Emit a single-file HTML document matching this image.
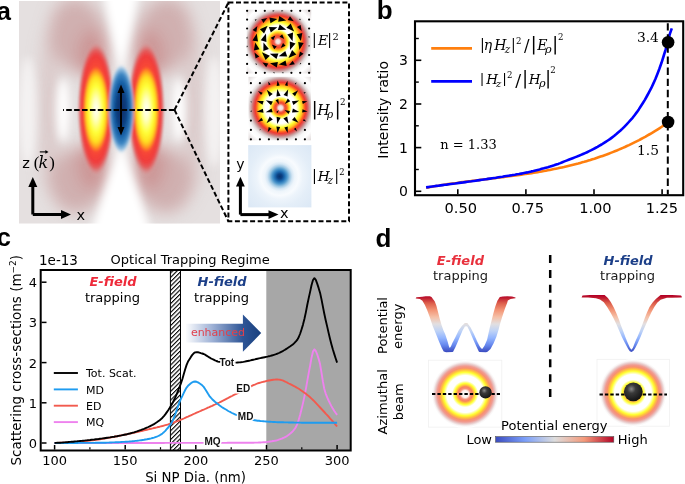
<!DOCTYPE html>
<html><head><meta charset="utf-8"><title>Figure</title>
<style>html,body{margin:0;padding:0;background:#fff;width:685px;height:484px;overflow:hidden}svg{display:block}</style>
</head><body>
<svg width="685" height="484" viewBox="0 0 685 484"><defs><clipPath id="clipC"><rect x="41" y="270" width="309.5" height="180"/></clipPath></defs><rect width="685" height="484" fill="#ffffff"/><defs>
<radialGradient id="lobeR" cx="0.5" cy="0.5" r="0.5">
  <stop offset="0" stop-color="#ff6a30"/>
  <stop offset="0.6" stop-color="#fa4a34"/>
  <stop offset="0.78" stop-color="#f03c3c"/>
  <stop offset="0.86" stop-color="#e45858" stop-opacity="0.95"/>
  <stop offset="0.93" stop-color="#d88a8a" stop-opacity="0.7"/>
  <stop offset="1" stop-color="#d4b0b0" stop-opacity="0"/>
</radialGradient>
<radialGradient id="lobeY" cx="0.5" cy="0.5" r="0.5">
  <stop offset="0" stop-color="#ffffff"/>
  <stop offset="0.25" stop-color="#ffffc0"/>
  <stop offset="0.55" stop-color="#ffff38"/>
  <stop offset="0.75" stop-color="#ffe020"/>
  <stop offset="0.86" stop-color="#ffa820"/>
  <stop offset="0.94" stop-color="#ff7a28" stop-opacity="0.8"/>
  <stop offset="1" stop-color="#ff6030" stop-opacity="0"/>
</radialGradient>
<radialGradient id="bluelobe" cx="0.5" cy="0.5" r="0.5">
  <stop offset="0" stop-color="#08306b"/>
  <stop offset="0.35" stop-color="#0a3b7c"/>
  <stop offset="0.6" stop-color="#1a62a8"/>
  <stop offset="0.78" stop-color="#3f88c4"/>
  <stop offset="0.9" stop-color="#8fbde0" stop-opacity="0.9"/>
  <stop offset="1" stop-color="#dcebf6" stop-opacity="0"/>
</radialGradient>
<filter id="blur1" x="-50%" y="-50%" width="200%" height="200%"><feGaussianBlur stdDeviation="1.2"/></filter>
<radialGradient id="pinkhaze" cx="0.5" cy="0.5" r="0.5">
  <stop offset="0" stop-color="#c89494" stop-opacity="0.85"/>
  <stop offset="0.6" stop-color="#cfa4a4" stop-opacity="0.6"/>
  <stop offset="1" stop-color="#dcc8c8" stop-opacity="0"/>
</radialGradient>
<radialGradient id="whiteblob" cx="0.5" cy="0.5" r="0.5">
  <stop offset="0" stop-color="#ffffff" stop-opacity="1"/>
  <stop offset="0.6" stop-color="#ffffff" stop-opacity="0.8"/>
  <stop offset="1" stop-color="#ffffff" stop-opacity="0"/>
</radialGradient>
<filter id="blur2" x="-50%" y="-50%" width="200%" height="200%"><feGaussianBlur stdDeviation="2"/></filter>
<filter id="blur4" x="-50%" y="-50%" width="200%" height="200%"><feGaussianBlur stdDeviation="4"/></filter>
<filter id="blur6" x="-50%" y="-50%" width="200%" height="200%"><feGaussianBlur stdDeviation="6"/></filter><filter id="blur8" x="-50%" y="-50%" width="200%" height="200%"><feGaussianBlur stdDeviation="8"/></filter>
<clipPath id="clipA"><rect x="19" y="1" width="201" height="222.5"/></clipPath>
<radialGradient id="ringE" gradientUnits="userSpaceOnUse" cx="278.00" cy="41.60" r="46.00"><stop offset="0.0000" stop-color="#f6f2f2" stop-opacity="1.00"/><stop offset="0.0435" stop-color="#f2dcd8" stop-opacity="1.00"/><stop offset="0.0870" stop-color="#f05a48" stop-opacity="1.00"/><stop offset="0.1304" stop-color="#f44a2c" stop-opacity="1.00"/><stop offset="0.1630" stop-color="#ff8420" stop-opacity="1.00"/><stop offset="0.2065" stop-color="#ffe020" stop-opacity="1.00"/><stop offset="0.2391" stop-color="#ffff80" stop-opacity="1.00"/><stop offset="0.2717" stop-color="#ffffff" stop-opacity="1.00"/><stop offset="0.3478" stop-color="#ffffff" stop-opacity="1.00"/><stop offset="0.3804" stop-color="#ffffa8" stop-opacity="1.00"/><stop offset="0.4239" stop-color="#ffff30" stop-opacity="1.00"/><stop offset="0.4783" stop-color="#ffc020" stop-opacity="1.00"/><stop offset="0.5217" stop-color="#ff6a20" stop-opacity="1.00"/><stop offset="0.5609" stop-color="#f03a30" stop-opacity="1.00"/><stop offset="0.5978" stop-color="#d86060" stop-opacity="1.00"/><stop offset="0.6413" stop-color="#c8a0a0" stop-opacity="1.00"/><stop offset="0.6848" stop-color="#e2dada" stop-opacity="1.00"/><stop offset="0.7391" stop-color="#f8f8f8" stop-opacity="1.00"/><stop offset="0.8261" stop-color="#ffffff" stop-opacity="1.00"/><stop offset="1.0000" stop-color="#d8d0d0" stop-opacity="1.00"/></radialGradient><radialGradient id="ringH" gradientUnits="userSpaceOnUse" cx="280.50" cy="107.90" r="46.00"><stop offset="0.0000" stop-color="#f6f2f2" stop-opacity="1.00"/><stop offset="0.0478" stop-color="#f2dcd8" stop-opacity="1.00"/><stop offset="0.0913" stop-color="#f05a48" stop-opacity="1.00"/><stop offset="0.1196" stop-color="#f44a2c" stop-opacity="1.00"/><stop offset="0.1522" stop-color="#ff8420" stop-opacity="1.00"/><stop offset="0.1891" stop-color="#ffe020" stop-opacity="1.00"/><stop offset="0.2217" stop-color="#ffff80" stop-opacity="1.00"/><stop offset="0.2500" stop-color="#ffffff" stop-opacity="1.00"/><stop offset="0.3370" stop-color="#ffffff" stop-opacity="1.00"/><stop offset="0.3804" stop-color="#ffffa8" stop-opacity="1.00"/><stop offset="0.4239" stop-color="#ffff30" stop-opacity="1.00"/><stop offset="0.4783" stop-color="#ffc020" stop-opacity="1.00"/><stop offset="0.5174" stop-color="#ff6a20" stop-opacity="1.00"/><stop offset="0.5543" stop-color="#f03a30" stop-opacity="1.00"/><stop offset="0.5935" stop-color="#d86060" stop-opacity="1.00"/><stop offset="0.6370" stop-color="#c8a0a0" stop-opacity="1.00"/><stop offset="0.6848" stop-color="#e2dada" stop-opacity="1.00"/><stop offset="0.7391" stop-color="#f8f8f8" stop-opacity="1.00"/><stop offset="0.8261" stop-color="#ffffff" stop-opacity="1.00"/><stop offset="1.0000" stop-color="#d8d0d0" stop-opacity="1.00"/></radialGradient><radialGradient id="ringZ" gradientUnits="userSpaceOnUse" cx="279.70" cy="176.40" r="46.00"><stop offset="0.0000" stop-color="#08306b" stop-opacity="1.00"/><stop offset="0.0543" stop-color="#0b4285" stop-opacity="1.00"/><stop offset="0.1087" stop-color="#1f6db2" stop-opacity="1.00"/><stop offset="0.1630" stop-color="#4f98cc" stop-opacity="1.00"/><stop offset="0.2174" stop-color="#9cc6e2" stop-opacity="1.00"/><stop offset="0.2717" stop-color="#d4e6f4" stop-opacity="1.00"/><stop offset="0.3261" stop-color="#eef5fb" stop-opacity="1.00"/><stop offset="0.4130" stop-color="#f8fbfe" stop-opacity="1.00"/><stop offset="0.5000" stop-color="#edf4fb" stop-opacity="1.00"/><stop offset="0.6522" stop-color="#e4eef8" stop-opacity="1.00"/><stop offset="1.0000" stop-color="#dae7f5" stop-opacity="1.00"/></radialGradient><radialGradient id="dringL" gradientUnits="userSpaceOnUse" cx="465.20" cy="394.00" r="34.00"><stop offset="0.0000" stop-color="#ffffff" stop-opacity="1.00"/><stop offset="0.1029" stop-color="#fdf0ec" stop-opacity="1.00"/><stop offset="0.1618" stop-color="#f89078" stop-opacity="1.00"/><stop offset="0.2118" stop-color="#f88060" stop-opacity="1.00"/><stop offset="0.2588" stop-color="#ffc040" stop-opacity="1.00"/><stop offset="0.3088" stop-color="#ffff30" stop-opacity="1.00"/><stop offset="0.3529" stop-color="#ffffa0" stop-opacity="1.00"/><stop offset="0.3882" stop-color="#ffffff" stop-opacity="1.00"/><stop offset="0.5441" stop-color="#ffffff" stop-opacity="1.00"/><stop offset="0.5882" stop-color="#ffffa0" stop-opacity="1.00"/><stop offset="0.6412" stop-color="#ffff30" stop-opacity="1.00"/><stop offset="0.7059" stop-color="#ffc040" stop-opacity="1.00"/><stop offset="0.7647" stop-color="#f89070" stop-opacity="1.00"/><stop offset="0.8235" stop-color="#f09a90" stop-opacity="1.00"/><stop offset="0.8824" stop-color="#e8c8c8" stop-opacity="1.00"/><stop offset="0.9412" stop-color="#f8f4f4" stop-opacity="1.00"/><stop offset="0.9853" stop-color="#ffffff" stop-opacity="1.00"/><stop offset="1.0000" stop-color="#ffffff" stop-opacity="1.00"/></radialGradient><radialGradient id="dringR" gradientUnits="userSpaceOnUse" cx="633.00" cy="392.90" r="34.00"><stop offset="0.0000" stop-color="#ffffff" stop-opacity="1.00"/><stop offset="0.1029" stop-color="#fdf0ec" stop-opacity="1.00"/><stop offset="0.1618" stop-color="#f89078" stop-opacity="1.00"/><stop offset="0.2118" stop-color="#f88060" stop-opacity="1.00"/><stop offset="0.2588" stop-color="#ffc040" stop-opacity="1.00"/><stop offset="0.3088" stop-color="#ffff30" stop-opacity="1.00"/><stop offset="0.3529" stop-color="#ffffa0" stop-opacity="1.00"/><stop offset="0.3882" stop-color="#ffffff" stop-opacity="1.00"/><stop offset="0.5441" stop-color="#ffffff" stop-opacity="1.00"/><stop offset="0.5882" stop-color="#ffffa0" stop-opacity="1.00"/><stop offset="0.6412" stop-color="#ffff30" stop-opacity="1.00"/><stop offset="0.7059" stop-color="#ffc040" stop-opacity="1.00"/><stop offset="0.7647" stop-color="#f89070" stop-opacity="1.00"/><stop offset="0.8235" stop-color="#f09a90" stop-opacity="1.00"/><stop offset="0.8824" stop-color="#e8c8c8" stop-opacity="1.00"/><stop offset="0.9412" stop-color="#f8f4f4" stop-opacity="1.00"/><stop offset="0.9853" stop-color="#ffffff" stop-opacity="1.00"/><stop offset="1.0000" stop-color="#ffffff" stop-opacity="1.00"/></radialGradient>
<radialGradient id="sphere" cx="0.4" cy="0.35" r="0.65">
  <stop offset="0" stop-color="#8a8a8a"/>
  <stop offset="0.35" stop-color="#3a3a3a"/>
  <stop offset="1" stop-color="#141414"/>
</radialGradient>
<linearGradient id="cw" x1="0" y1="0" x2="1" y2="0">
  <stop offset="0" stop-color="#3b4cc0"/>
  <stop offset="0.25" stop-color="#7b9ff9"/>
  <stop offset="0.5" stop-color="#dddddd"/>
  <stop offset="0.75" stop-color="#f49a7b"/>
  <stop offset="1" stop-color="#b40426"/>
</linearGradient>
<linearGradient id="wellg" gradientUnits="userSpaceOnUse" x1="0" y1="296" x2="0" y2="352">
  <stop offset="0" stop-color="#b40426"/>
  <stop offset="0.125" stop-color="#dc5d4a"/>
  <stop offset="0.25" stop-color="#f39475"/>
  <stop offset="0.375" stop-color="#f5c0a7"/>
  <stop offset="0.5" stop-color="#e2dfe0"/>
  <stop offset="0.625" stop-color="#bfd3f6"/>
  <stop offset="0.75" stop-color="#93b5fe"/>
  <stop offset="0.875" stop-color="#6688ee"/>
  <stop offset="1" stop-color="#3b4cc0"/>
</linearGradient>
<filter id="soft" x="-5%" y="-5%" width="110%" height="110%"><feGaussianBlur stdDeviation="0.45"/></filter>
<linearGradient id="arrowg" gradientUnits="userSpaceOnUse" x1="185" y1="0" x2="262" y2="0">
  <stop offset="0" stop-color="#ffffff"/>
  <stop offset="0.35" stop-color="#9fb2d6"/>
  <stop offset="0.75" stop-color="#2e5596"/>
  <stop offset="1" stop-color="#173e7c"/>
</linearGradient>
<pattern id="hatch" patternUnits="userSpaceOnUse" width="3.1" height="3.1" patternTransform="rotate(45)">
  <rect width="3.1" height="3.1" fill="#ffffff"/>
  <rect x="0" y="0" width="1.1" height="3.1" fill="#000000"/>
</pattern>
</defs><g clip-path="url(#clipA)"><rect x="19" y="1" width="201" height="223" fill="#e5e0e0"/><g filter="url(#blur8)"><ellipse cx="49.0" cy="110" rx="9" ry="80" fill="#d0b0b0" opacity="0.5"/><ellipse cx="78.0" cy="36.0" rx="28" ry="38" fill="#c89c9c" opacity="0.72" transform="rotate(-12.0 78.0 36.0)"/><ellipse cx="93.0" cy="54.0" rx="15" ry="24" fill="#cc9090" opacity="0.8"/><ellipse cx="78.0" cy="180.0" rx="28" ry="33" fill="#c89c9c" opacity="0.72" transform="rotate(12.0 78.0 180.0)"/><ellipse cx="93.0" cy="166.0" rx="15" ry="24" fill="#cc9090" opacity="0.8"/><ellipse cx="193.0" cy="110" rx="9" ry="80" fill="#d0b0b0" opacity="0.5"/><ellipse cx="164.0" cy="36.0" rx="28" ry="38" fill="#c89c9c" opacity="0.72" transform="rotate(12.0 164.0 36.0)"/><ellipse cx="149.0" cy="54.0" rx="15" ry="24" fill="#cc9090" opacity="0.8"/><ellipse cx="164.0" cy="180.0" rx="28" ry="33" fill="#c89c9c" opacity="0.72" transform="rotate(-12.0 164.0 180.0)"/><ellipse cx="149.0" cy="166.0" rx="15" ry="24" fill="#cc9090" opacity="0.8"/></g><g filter="url(#blur4)"><ellipse cx="63.0" cy="110" rx="6.5" ry="32" fill="#ffffff"/><ellipse cx="28.0" cy="112" rx="9" ry="55" fill="#ffffff" opacity="0.6"/><ellipse cx="179.0" cy="110" rx="6.5" ry="32" fill="#ffffff"/><ellipse cx="214.0" cy="112" rx="9" ry="55" fill="#ffffff" opacity="0.6"/><path d="M121,80.0 L102.0,-12.0 L140.0,-12.0 Z" fill="#ffffff"/><path d="M121,140.0 L91.0,232.0 L151.0,232.0 Z" fill="#ffffff"/></g><g filter="url(#blur1)"><ellipse cx="96.0" cy="109" rx="18.5" ry="68" fill="url(#lobeR)"/><ellipse cx="96.0" cy="109.5" rx="12.8" ry="43" fill="url(#lobeY)"/><ellipse cx="146.3" cy="109" rx="18.5" ry="68" fill="url(#lobeR)"/><ellipse cx="146.3" cy="109.5" rx="12.8" ry="43" fill="url(#lobeY)"/><ellipse cx="121.3" cy="109" rx="13.2" ry="45" fill="url(#bluelobe)"/></g></g><g stroke="#000" stroke-width="2" fill="none" stroke-dasharray="5,2.6"><path d="M174.5,109.9 L63,109.9" stroke-dasharray="5.6,2.3"/><path d="M174.5,109.9 L228.4,2.6"/><path d="M174.5,109.9 L228.4,221.3"/><rect x="228.4" y="2.6" width="120.6" height="218.7"/></g><line x1="121" y1="92" x2="121" y2="128" stroke="#000" stroke-width="2"/><path d="M121,84.5 L117.5,93 L124.5,93 Z" fill="#000"/><path d="M121,135.5 L117.5,127 L124.5,127 Z" fill="#000"/><path d="M32.8,214.5 L64,214.5" stroke="#000" stroke-width="3" fill="none"/><path d="M32.8,214.5 L32.8,185" stroke="#000" stroke-width="3" fill="none"/><path d="M32.8,177 L28.3,187 L37.3,187 Z" fill="#000"/><path d="M71,214.5 L61,210 L61,219 Z" fill="#000"/><text x="22.2" y="168" font-family="'DejaVu Sans', 'Liberation Sans', sans-serif" font-size="14.5">z</text><text x="33.7" y="167.5" font-family="'Liberation Serif', 'DejaVu Serif', serif" font-size="16.7">(</text><text x="38.55" y="168" font-family="'DejaVu Serif', 'Liberation Serif', serif" font-size="16" font-style="italic">k</text><text x="49.3" y="167.5" font-family="'Liberation Serif', 'DejaVu Serif', serif" font-size="16.7">)</text><path d="M39.8,151.9 L46.2,151.9" stroke="#000" stroke-width="1.1"/><path d="M48.5,151.9 L45.4,150.1 L45.4,153.7 Z" fill="#000"/><text x="76.6" y="219.6" font-family="'DejaVu Sans', 'Liberation Sans', sans-serif" font-size="14.5">x</text><rect x="246.7" y="9.7" width="64.5" height="63.7" fill="url(#ringE)"/><rect x="248.5" y="76.8" width="62.5" height="63.5" fill="url(#ringH)"/><rect x="248.2" y="145.1" width="63.2" height="62.3" fill="url(#ringZ)"/><circle cx="247.1" cy="10.8" r="1.1" fill="#000"/><circle cx="247.1" cy="19.6" r="1.1" fill="#000"/><circle cx="247.1" cy="28.5" r="1.1" fill="#000"/><path d="M247.2,36.4 L247.7,38.4 L246.2,38.2 Z" fill="#000"/><path d="M247.0,45.3 L247.9,47.0 L246.5,47.2 Z" fill="#000"/><circle cx="247.1" cy="55.0" r="1.1" fill="#000"/><circle cx="247.1" cy="63.9" r="1.1" fill="#000"/><circle cx="247.1" cy="72.8" r="1.1" fill="#000"/><circle cx="255.9" cy="10.8" r="1.1" fill="#000"/><path d="M256.6,18.9 L255.8,20.9 L254.7,19.8 Z" fill="#000"/><path d="M257.4,26.0 L256.3,32.1 L252.6,29.9 Z" fill="#000"/><path d="M256.7,33.6 L258.0,41.6 L252.4,40.5 Z" fill="#000"/><path d="M255.2,42.5 L259.5,49.3 L253.9,50.5 Z" fill="#000"/><path d="M254.5,52.6 L259.3,56.4 L255.6,58.6 Z" fill="#000"/><path d="M255.3,63.3 L257.1,64.1 L256.1,65.0 Z" fill="#000"/><circle cx="255.9" cy="72.8" r="1.1" fill="#000"/><circle cx="264.8" cy="10.8" r="1.1" fill="#000"/><path d="M267.3,18.1 L263.4,23.0 L261.2,19.3 Z" fill="#000"/><path d="M267.6,25.7 L264.1,33.5 L259.9,29.2 Z" fill="#000"/><path d="M266.0,33.6 L266.4,42.1 L260.7,40.2 Z" fill="#000"/><path d="M263.5,42.4 L268.9,49.0 L263.3,51.0 Z" fill="#000"/><path d="M261.9,52.2 L269.8,55.7 L265.6,60.0 Z" fill="#000"/><path d="M262.4,62.5 L268.3,63.5 L266.2,67.2 Z" fill="#000"/><circle cx="264.8" cy="72.8" r="1.1" fill="#000"/><path d="M274.6,10.7 L272.8,11.7 L272.6,10.2 Z" fill="#000"/><path d="M277.4,18.9 L270.5,23.2 L269.4,17.6 Z" fill="#000"/><path d="M277.4,27.2 L270.8,32.6 L268.9,26.9 Z" fill="#000"/><path d="M275.3,35.6 L273.3,40.3 L270.7,37.8 Z" fill="#000"/><path d="M271.8,44.5 L276.8,46.6 L274.2,49.3 Z" fill="#000"/><path d="M269.8,53.8 L278.4,53.4 L276.5,59.1 Z" fill="#000"/><path d="M270.0,63.2 L277.9,61.9 L276.8,67.4 Z" fill="#000"/><path d="M272.8,72.6 L274.6,72.2 L274.4,73.5 Z" fill="#000"/><path d="M283.5,10.9 L281.4,11.4 L281.6,9.9 Z" fill="#000"/><path d="M286.2,20.4 L278.2,21.7 L279.3,16.1 Z" fill="#000"/><path d="M286.3,29.8 L277.8,30.0 L279.7,24.4 Z" fill="#000"/><path d="M284.2,39.1 L279.5,36.8 L282.2,34.3 Z" fill="#000"/><path d="M280.7,48.0 L283.0,43.1 L285.6,45.8 Z" fill="#000"/><path d="M278.7,56.3 L285.3,50.9 L287.2,56.6 Z" fill="#000"/><path d="M278.8,64.6 L285.6,60.4 L286.7,65.9 Z" fill="#000"/><path d="M281.6,72.9 L283.3,72.0 L283.5,73.3 Z" fill="#000"/><circle cx="291.4" cy="10.8" r="1.1" fill="#000"/><path d="M293.8,21.2 L287.7,20.0 L290.0,16.3 Z" fill="#000"/><path d="M294.2,31.4 L286.4,27.7 L290.7,23.5 Z" fill="#000"/><path d="M292.6,41.2 L287.3,34.4 L293.0,32.6 Z" fill="#000"/><path d="M290.0,50.0 L289.8,41.4 L295.5,43.4 Z" fill="#000"/><path d="M288.5,57.9 L292.1,50.1 L296.3,54.4 Z" fill="#000"/><path d="M288.9,65.3 L292.7,60.7 L294.8,64.3 Z" fill="#000"/><circle cx="291.4" cy="72.8" r="1.1" fill="#000"/><circle cx="300.2" cy="10.8" r="1.1" fill="#000"/><path d="M300.9,20.3 L299.0,19.5 L300.0,18.5 Z" fill="#000"/><path d="M301.7,31.0 L296.9,27.1 L300.6,24.9 Z" fill="#000"/><path d="M300.9,41.1 L296.7,34.2 L302.3,33.1 Z" fill="#000"/><path d="M299.4,49.9 L298.2,42.0 L303.7,43.1 Z" fill="#000"/><path d="M298.7,57.5 L299.9,51.5 L303.5,53.7 Z" fill="#000"/><path d="M299.6,64.5 L300.4,62.8 L301.3,63.7 Z" fill="#000"/><circle cx="300.2" cy="72.8" r="1.1" fill="#000"/><circle cx="309.1" cy="10.8" r="1.1" fill="#000"/><circle cx="309.1" cy="19.6" r="1.1" fill="#000"/><circle cx="309.1" cy="28.5" r="1.1" fill="#000"/><path d="M309.2,38.3 L308.2,36.5 L309.6,36.3 Z" fill="#000"/><path d="M308.9,47.1 L308.5,45.2 L309.9,45.4 Z" fill="#000"/><circle cx="309.1" cy="55.0" r="1.1" fill="#000"/><circle cx="309.1" cy="63.9" r="1.1" fill="#000"/><circle cx="309.1" cy="72.8" r="1.1" fill="#000"/><circle cx="250.9" cy="83.2" r="1.1" fill="#000"/><circle cx="250.9" cy="92.6" r="1.1" fill="#000"/><path d="M250.2,101.8 L251.7,101.6 L251.5,102.5 Z" fill="#000"/><path d="M250.0,111.3 L251.7,110.6 L251.8,111.7 Z" fill="#000"/><circle cx="250.9" cy="120.6" r="1.1" fill="#000"/><circle cx="250.9" cy="129.9" r="1.1" fill="#000"/><circle cx="250.9" cy="139.3" r="1.1" fill="#000"/><circle cx="259.9" cy="83.2" r="1.1" fill="#000"/><path d="M258.0,91.1 L262.7,92.8 L261.0,95.1 Z" fill="#000"/><path d="M256.8,101.0 L263.6,100.9 L262.5,104.7 Z" fill="#000"/><path d="M256.6,111.8 L262.9,108.8 L263.5,112.7 Z" fill="#000"/><path d="M257.6,122.0 L261.4,117.7 L263.1,120.6 Z" fill="#000"/><path d="M259.4,130.5 L260.1,129.1 L260.7,129.7 Z" fill="#000"/><circle cx="259.9" cy="139.3" r="1.1" fill="#000"/><path d="M268.2,81.6 L270.6,84.3 L268.7,85.2 Z" fill="#000"/><path d="M266.8,89.8 L272.7,94.1 L269.3,96.6 Z" fill="#000"/><path d="M265.9,100.3 L272.9,101.6 L271.0,105.3 Z" fill="#000"/><path d="M265.7,112.2 L271.5,108.4 L272.7,112.2 Z" fill="#000"/><path d="M266.5,123.2 L269.7,116.6 L272.8,119.4 Z" fill="#000"/><path d="M267.7,132.2 L268.7,126.9 L271.5,128.4 Z" fill="#000"/><circle cx="268.9" cy="139.3" r="1.1" fill="#000"/><path d="M277.6,80.6 L279.7,85.6 L276.6,86.0 Z" fill="#000"/><path d="M277.3,89.1 L280.6,95.7 L276.4,96.4 Z" fill="#000"/><path d="M278.9,104.2 L275.5,100.2 L278.3,99.0 Z" fill="#000"/><path d="M278.8,110.0 L277.7,113.0 L276.2,111.9 Z" fill="#000"/><path d="M277.2,123.9 L276.6,116.8 L280.6,117.7 Z" fill="#000"/><path d="M277.5,133.1 L276.4,126.6 L280.2,127.0 Z" fill="#000"/><circle cx="277.9" cy="139.3" r="1.1" fill="#000"/><path d="M287.5,80.8 L287.7,85.9 L284.9,85.2 Z" fill="#000"/><path d="M288.2,89.3 L287.5,96.6 L283.6,95.0 Z" fill="#000"/><path d="M284.8,103.9 L287.8,98.6 L290.2,101.2 Z" fill="#000"/><path d="M284.5,110.0 L290.0,111.1 L288.5,113.9 Z" fill="#000"/><path d="M288.5,123.7 L283.4,118.4 L287.2,116.5 Z" fill="#000"/><path d="M287.7,132.9 L284.3,127.5 L287.8,126.5 Z" fill="#000"/><circle cx="286.9" cy="139.3" r="1.1" fill="#000"/><path d="M296.5,82.3 L295.9,84.4 L294.8,83.8 Z" fill="#000"/><path d="M298.2,90.3 L295.0,96.2 L292.2,93.5 Z" fill="#000"/><path d="M299.2,100.6 L293.4,105.1 L291.9,101.2 Z" fill="#000"/><path d="M299.3,112.0 L292.0,112.6 L292.9,108.5 Z" fill="#000"/><path d="M298.5,122.8 L292.0,120.0 L294.6,116.9 Z" fill="#000"/><path d="M297.0,131.5 L293.9,129.1 L295.7,127.8 Z" fill="#000"/><circle cx="295.9" cy="139.3" r="1.1" fill="#000"/><circle cx="304.9" cy="83.2" r="1.1" fill="#000"/><path d="M305.9,91.9 L304.3,93.7 L303.6,92.6 Z" fill="#000"/><path d="M307.4,101.3 L302.8,104.0 L302.1,101.0 Z" fill="#000"/><path d="M307.5,111.6 L302.1,112.5 L302.5,109.3 Z" fill="#000"/><path d="M306.3,121.4 L303.0,120.7 L303.9,119.0 Z" fill="#000"/><circle cx="304.9" cy="129.9" r="1.1" fill="#000"/><circle cx="304.9" cy="139.3" r="1.1" fill="#000"/><text x="311.93" y="44.40" font-family="'DejaVu Serif', 'Liberation Serif', serif" font-size="13.90">|</text><text x="317.98" y="44.90" font-family="'DejaVu Serif', 'Liberation Serif', serif" font-size="13.80" font-style="italic">E</text><text x="327.33" y="44.40" font-family="'DejaVu Serif', 'Liberation Serif', serif" font-size="13.90">|</text><text x="332.61" y="39.50" font-family="'DejaVu Serif', 'Liberation Serif', serif" font-size="9.86">2</text><text x="311.54" y="115.38" font-family="'DejaVu Serif', 'Liberation Serif', serif" font-size="18.80">|</text><text x="317.29" y="115.00" font-family="'DejaVu Serif', 'Liberation Serif', serif" font-size="14.40" font-style="italic">H</text><text x="327.11" y="117.60" font-family="'DejaVu Serif', 'Liberation Serif', serif" font-size="10.50" font-style="italic">ρ</text><text x="334.44" y="115.38" font-family="'DejaVu Serif', 'Liberation Serif', serif" font-size="18.80">|</text><text x="339.97" y="104.50" font-family="'DejaVu Serif', 'Liberation Serif', serif" font-size="8.78">2</text><text x="312.06" y="180.16" font-family="'DejaVu Serif', 'Liberation Serif', serif" font-size="14.50">|</text><text x="317.68" y="181.00" font-family="'DejaVu Serif', 'Liberation Serif', serif" font-size="13.80" font-style="italic">H</text><text x="327.60" y="183.69" font-family="'DejaVu Serif', 'Liberation Serif', serif" font-size="10.35" font-style="italic">z</text><text x="334.26" y="180.16" font-family="'DejaVu Serif', 'Liberation Serif', serif" font-size="14.50">|</text><text x="339.30" y="174.50" font-family="'DejaVu Serif', 'Liberation Serif', serif" font-size="8.38">2</text><path d="M240.4,214.6 L271,214.6" stroke="#000" stroke-width="3" fill="none"/><path d="M240.4,214.6 L240.4,185" stroke="#000" stroke-width="3" fill="none"/><path d="M240.4,176.8 L236,186.5 L244.8,186.5 Z" fill="#000"/><path d="M278.5,214.6 L268.5,210.2 L268.5,219 Z" fill="#000"/><text x="236.3" y="168.9" font-family="'DejaVu Sans', 'Liberation Sans', sans-serif" font-size="14">y</text><text x="279.9" y="217.6" font-family="'DejaVu Sans', 'Liberation Sans', sans-serif" font-size="14.5">x</text><text x="-3.5" y="19.6" font-family="'Liberation Sans', 'DejaVu Sans', sans-serif" font-size="26" font-weight="bold">a</text><text x="376.8" y="18.8" font-family="'Liberation Sans', 'DejaVu Sans', sans-serif" font-size="26" font-weight="bold">b</text><text x="-3.6" y="246.3" font-family="'Liberation Sans', 'DejaVu Sans', sans-serif" font-size="26" font-weight="bold">c</text><text x="375.5" y="246.5" font-family="'Liberation Sans', 'DejaVu Sans', sans-serif" font-size="26" font-weight="bold">d</text><rect x="415" y="21.3" width="268.2" height="173.9" fill="none" stroke="#000" stroke-width="2.1"/><path d="M426.1,187.8L428.1,187.4L430.2,187.0L432.2,186.7L434.2,186.3L436.2,186.0L438.3,185.7L440.3,185.3L442.3,185.0L444.4,184.7L446.4,184.4L448.4,184.1L450.4,183.8L452.5,183.5L454.5,183.2L456.5,183.0L458.6,182.7L460.6,182.4L462.6,182.1L464.6,181.9L466.7,181.6L468.7,181.3L470.7,181.1L472.8,180.8L474.8,180.6L476.8,180.3L478.8,180.1L480.9,179.8L482.9,179.6L484.9,179.3L487.0,179.1L489.0,178.8L491.0,178.6L493.0,178.3L495.1,178.1L497.1,177.8L499.1,177.6L501.2,177.3L503.2,177.1L505.2,176.8L507.2,176.5L509.3,176.3L511.3,176.0L513.3,175.7L515.4,175.5L517.4,175.2L519.4,174.9L521.4,174.6L523.5,174.3L525.5,174.0L527.5,173.7L529.6,173.4L531.6,173.1L533.6,172.8L535.6,172.4L537.7,172.1L539.7,171.8L541.7,171.4L543.8,171.0L545.8,170.7L547.8,170.3L549.8,169.9L551.9,169.5L553.9,169.1L555.9,168.7L558.0,168.3L560.0,167.8L562.0,167.4L564.0,167.0L566.1,166.5L568.1,166.0L570.1,165.5L572.2,165.0L574.2,164.5L576.2,164.0L578.2,163.5L580.3,162.9L582.3,162.3L584.3,161.8L586.4,161.2L588.4,160.6L590.4,160.0L592.4,159.3L594.5,158.7L596.5,158.0L598.5,157.3L600.6,156.6L602.6,155.9L604.6,155.2L606.6,154.5L608.7,153.7L610.7,152.9L612.7,152.1L614.8,151.3L616.8,150.5L618.8,149.6L620.8,148.8L622.9,147.9L624.9,147.0L626.9,146.0L629.0,145.1L631.0,144.1L633.0,143.1L635.0,142.1L637.1,141.1L639.1,140.1L641.1,139.0L643.2,137.9L645.2,136.8L647.2,135.6L649.2,134.5L651.3,133.3L653.3,132.1L655.3,130.9L657.4,129.6L659.4,128.3L661.4,127.0L663.4,125.7L665.5,124.4L667.5,123.0" stroke="#ff7f0e" stroke-width="2.6" fill="none" stroke-linejoin="round"/><path d="M426.1,187.4L428.2,187.1L430.2,186.8L432.3,186.5L434.4,186.2L436.4,185.9L438.5,185.7L440.6,185.4L442.6,185.1L444.7,184.8L446.7,184.6L448.8,184.3L450.9,184.0L452.9,183.7L455.0,183.5L457.1,183.2L459.1,182.9L461.2,182.6L463.3,182.4L465.3,182.1L467.4,181.8L469.5,181.5L471.5,181.3L473.6,181.0L475.7,180.7L477.7,180.4L479.8,180.1L481.8,179.8L483.9,179.5L486.0,179.2L488.0,178.9L490.1,178.6L492.2,178.3L494.2,178.0L496.3,177.7L498.4,177.3L500.4,177.0L502.5,176.7L504.6,176.3L506.6,176.0L508.7,175.7L510.8,175.4L512.8,175.0L514.9,174.7L516.9,174.3L519.0,174.0L521.1,173.6L523.1,173.2L525.2,172.8L527.3,172.4L529.3,171.9L531.4,171.4L533.5,171.0L535.5,170.4L537.6,169.9L539.7,169.4L541.7,168.8L543.8,168.3L545.9,167.7L547.9,167.2L550.0,166.6L552.0,165.9L554.1,165.3L556.2,164.6L558.2,163.9L560.3,163.1L562.4,162.2L564.4,161.4L566.5,160.6L568.6,159.8L570.6,159.0L572.7,158.2L574.8,157.4L576.8,156.6L578.9,155.8L581.0,154.9L583.0,154.0L585.1,153.1L587.1,152.2L589.2,151.2L591.3,150.2L593.3,149.1L595.4,148.0L597.5,146.9L599.5,145.7L601.6,144.5L603.7,143.2L605.7,141.9L607.8,140.5L609.9,139.1L611.9,137.6L614.0,136.0L616.1,134.3L618.1,132.6L620.2,130.8L622.2,128.9L624.3,126.8L626.4,124.7L628.4,122.5L630.5,120.2L632.6,117.8L634.6,115.2L636.7,112.4L638.8,109.4L640.8,106.3L642.9,103.0L645.0,99.6L647.0,96.0L649.1,92.2L651.2,88.2L653.2,83.9L655.3,79.3L657.3,74.3L659.4,68.8L661.5,62.8L663.5,56.5L665.6,49.6L667.7,42.0L669.7,34.4L671.8,28.3" stroke="#0000ff" stroke-width="2.6" fill="none" stroke-linejoin="round"/><line x1="667.8" y1="23.2" x2="667.8" y2="194.5" stroke="#000" stroke-width="2" stroke-dasharray="7.4,3.7"/><circle cx="668.1" cy="42.2" r="6.3" fill="#000"/><circle cx="668.1" cy="122.0" r="6.3" fill="#000"/><line x1="416" y1="191.3" x2="421.3" y2="191.3" stroke="#000" stroke-width="1.6"/><text x="407.8" y="196.4" font-family="'DejaVu Sans', 'Liberation Sans', sans-serif" font-size="14" text-anchor="end">0</text><line x1="416" y1="169.5" x2="418.8" y2="169.5" stroke="#000" stroke-width="1.4"/><line x1="416" y1="147.6" x2="421.3" y2="147.6" stroke="#000" stroke-width="1.6"/><text x="407.8" y="152.7" font-family="'DejaVu Sans', 'Liberation Sans', sans-serif" font-size="14" text-anchor="end">1</text><line x1="416" y1="125.8" x2="418.8" y2="125.8" stroke="#000" stroke-width="1.4"/><line x1="416" y1="104.0" x2="421.3" y2="104.0" stroke="#000" stroke-width="1.6"/><text x="407.8" y="109.1" font-family="'DejaVu Sans', 'Liberation Sans', sans-serif" font-size="14" text-anchor="end">2</text><line x1="416" y1="82.1" x2="418.8" y2="82.1" stroke="#000" stroke-width="1.4"/><line x1="416" y1="60.3" x2="421.3" y2="60.3" stroke="#000" stroke-width="1.6"/><text x="407.8" y="65.4" font-family="'DejaVu Sans', 'Liberation Sans', sans-serif" font-size="14" text-anchor="end">3</text><line x1="416" y1="38.5" x2="418.8" y2="38.5" stroke="#000" stroke-width="1.4"/><line x1="457.8" y1="194.3" x2="457.8" y2="189.3" stroke="#000" stroke-width="1.6"/><text x="460.8" y="212.7" font-family="'DejaVu Sans', 'Liberation Sans', sans-serif" font-size="14.6" text-anchor="middle">0.50</text><line x1="525.9" y1="194.3" x2="525.9" y2="189.3" stroke="#000" stroke-width="1.6"/><text x="527.7" y="212.7" font-family="'DejaVu Sans', 'Liberation Sans', sans-serif" font-size="14.6" text-anchor="middle">0.75</text><line x1="594.0" y1="194.3" x2="594.0" y2="189.3" stroke="#000" stroke-width="1.6"/><text x="595.4" y="212.7" font-family="'DejaVu Sans', 'Liberation Sans', sans-serif" font-size="14.6" text-anchor="middle">1.00</text><line x1="662.1" y1="194.3" x2="662.1" y2="189.3" stroke="#000" stroke-width="1.6"/><text x="661.9" y="212.7" font-family="'DejaVu Sans', 'Liberation Sans', sans-serif" font-size="14.6" text-anchor="middle">1.25</text><text transform="translate(388.3,109.8) rotate(-90)" font-family="'DejaVu Sans', 'Liberation Sans', sans-serif" font-size="14" text-anchor="middle">Intensity ratio</text><line x1="431.2" y1="48.4" x2="472" y2="48.4" stroke="#ff7f0e" stroke-width="2.7"/><line x1="431.2" y1="81.3" x2="472" y2="81.3" stroke="#0000ff" stroke-width="2.7"/><text x="480.08" y="49.21" font-family="'DejaVu Serif', 'Liberation Serif', serif" font-size="14.30">|</text><text x="483.74" y="49.60" font-family="'DejaVu Serif', 'Liberation Serif', serif" font-size="14.00" font-style="italic">η</text><text x="494.28" y="49.60" font-family="'DejaVu Serif', 'Liberation Serif', serif" font-size="14.00" font-style="italic">H</text><text x="504.70" y="52.59" font-family="'DejaVu Serif', 'Liberation Serif', serif" font-size="10.35" font-style="italic">z</text><text x="511.02" y="49.08" font-family="'DejaVu Serif', 'Liberation Serif', serif" font-size="14.00">|</text><text x="516.08" y="44.00" font-family="'DejaVu Serif', 'Liberation Serif', serif" font-size="8.60">2</text><text x="524.10" y="50.82" font-family="'DejaVu Serif', 'Liberation Serif', serif" font-size="16.46">/</text><text x="530.54" y="50.18" font-family="'DejaVu Serif', 'Liberation Serif', serif" font-size="18.80">|</text><text x="537.28" y="49.70" font-family="'DejaVu Serif', 'Liberation Serif', serif" font-size="14.00" font-style="italic">E</text><text x="545.01" y="53.04" font-family="'DejaVu Serif', 'Liberation Serif', serif" font-size="11.22" font-style="italic">ρ</text><text x="551.94" y="50.18" font-family="'DejaVu Serif', 'Liberation Serif', serif" font-size="18.80">|</text><text x="557.88" y="39.60" font-family="'DejaVu Serif', 'Liberation Serif', serif" font-size="8.60">2</text><text x="479.67" y="83.37" font-family="'DejaVu Serif', 'Liberation Serif', serif" font-size="13.60">|</text><text x="486.17" y="83.90" font-family="'DejaVu Serif', 'Liberation Serif', serif" font-size="13.50" font-style="italic">H</text><text x="496.10" y="87.20" font-family="'DejaVu Serif', 'Liberation Serif', serif" font-size="10.00" font-style="italic">z</text><text x="502.27" y="83.37" font-family="'DejaVu Serif', 'Liberation Serif', serif" font-size="13.60">|</text><text x="507.08" y="78.20" font-family="'DejaVu Serif', 'Liberation Serif', serif" font-size="8.60">2</text><text x="515.20" y="85.82" font-family="'DejaVu Serif', 'Liberation Serif', serif" font-size="17.56">/</text><text x="521.99" y="84.47" font-family="'DejaVu Serif', 'Liberation Serif', serif" font-size="18.40">|</text><text x="528.67" y="83.90" font-family="'DejaVu Serif', 'Liberation Serif', serif" font-size="13.50" font-style="italic">H</text><text x="538.91" y="87.34" font-family="'DejaVu Serif', 'Liberation Serif', serif" font-size="11.22" font-style="italic">ρ</text><text x="545.09" y="84.47" font-family="'DejaVu Serif', 'Liberation Serif', serif" font-size="18.40">|</text><text x="550.18" y="73.30" font-family="'DejaVu Serif', 'Liberation Serif', serif" font-size="8.60">2</text><text x="658.9" y="42.4" font-family="'DejaVu Serif', 'Liberation Serif', serif" font-size="13.8" text-anchor="end">3.4</text><text x="659.0" y="155.4" font-family="'DejaVu Serif', 'Liberation Serif', serif" font-size="13.8" text-anchor="end">1.5</text><text x="440.3" y="148.9" font-family="'DejaVu Serif', 'Liberation Serif', serif" font-size="13">n = 1.33</text><rect x="266.3" y="270" width="84.4" height="180.5" fill="#a7a7a7"/><rect x="170.4" y="270" width="10.1" height="180.5" fill="url(#hatch)" stroke="#000" stroke-width="1"/><g clip-path="url(#clipC)" fill="none" stroke-width="1.9" stroke-linejoin="round"><path d="M54.6,443.0L56.0,443.0L57.4,443.0L58.9,443.0L60.3,443.0L61.7,443.0L63.1,443.0L64.5,443.0L66.0,443.0L67.4,443.0L68.8,443.0L70.2,443.0L71.6,443.0L73.1,443.0L74.5,443.0L75.9,443.0L77.3,443.0L78.7,443.0L80.2,443.0L81.6,443.0L83.0,443.0L84.4,443.0L85.8,443.0L87.3,443.0L88.7,443.0L90.1,443.0L91.5,443.0L92.9,443.0L94.3,443.0L95.8,443.0L97.2,443.0L98.6,443.0L100.0,443.0L101.4,443.0L102.9,443.0L104.3,443.0L105.7,443.0L107.1,443.0L108.5,443.0L110.0,443.0L111.4,443.0L112.8,443.0L114.2,443.0L115.6,443.0L117.1,443.0L118.5,443.0L119.9,443.0L121.3,443.0L122.7,443.0L124.2,443.0L125.6,443.0L127.0,443.0L128.4,443.0L129.8,443.0L131.3,443.0L132.7,443.0L134.1,443.0L135.5,443.0L136.9,443.0L138.4,443.0L139.8,443.0L141.2,443.0L142.6,443.0L144.0,443.0L145.5,443.0L146.9,443.0L148.3,443.0L149.7,443.0L151.1,443.0L152.6,443.0L154.0,443.0L155.4,443.0L156.8,443.0L158.2,443.0L159.7,443.0L161.1,443.0L162.5,443.0L163.9,443.0L165.3,442.9L166.7,442.9L168.2,442.9L169.6,442.9L171.0,442.9L172.4,442.9L173.8,442.9L175.3,442.9L176.7,442.9L178.1,442.9L179.5,442.9L180.9,442.9L182.4,442.9L183.8,442.9L185.2,442.9L186.6,442.9L188.0,442.9L189.5,442.9L190.9,442.9L192.3,442.9L193.7,442.9L195.1,442.9L196.6,442.9L198.0,442.9L199.4,442.9L200.8,442.9L202.2,442.9L203.7,442.9L205.1,442.9L206.5,442.9L207.9,442.9L209.3,442.9L210.8,442.9L212.2,442.9L213.6,442.9L215.0,442.9L216.4,442.9L217.9,442.9L219.3,442.9L220.7,442.9L222.1,442.9L223.5,442.9L225.0,442.9L226.4,442.9L227.8,442.8L229.2,442.8L230.6,442.8L232.0,442.8L233.5,442.8L234.9,442.8L236.3,442.8L237.7,442.8L239.1,442.8L240.6,442.8L242.0,442.8L243.4,442.8L244.8,442.8L246.2,442.7L247.7,442.7L249.1,442.7L250.5,442.7L251.9,442.7L253.3,442.7L254.8,442.6L256.2,442.6L257.6,442.6L259.0,442.5L260.4,442.5L261.9,442.4L263.3,442.3L264.7,442.2L266.1,442.1L267.5,441.9L269.0,441.7L270.4,441.5L271.8,441.3L273.2,441.0L274.6,440.8L276.1,440.5L277.5,440.1L278.9,439.6L280.3,439.1L281.7,438.6L283.2,438.0L284.6,437.3L286.0,436.6L287.4,435.7L288.8,434.7L290.3,433.6L291.7,432.3L293.1,430.8L294.5,429.2L295.9,427.1L297.4,423.9L298.8,419.6L300.2,414.5L301.6,408.9L303.0,403.1L304.4,396.6L305.9,388.9L307.3,380.8L308.7,373.1L310.1,365.8L311.5,357.9L313.0,351.5L314.4,349.4L315.8,351.0L317.2,354.4L318.6,358.7L320.1,364.3L321.5,372.6L322.9,381.5L324.3,388.9L325.7,393.6L327.2,397.4L328.6,400.5L330.0,403.4L331.4,406.1L332.8,408.6L334.3,411.0L335.7,413.0L337.1,414.9" stroke="#ee82ee"/><path d="M54.6,443.0L56.0,443.0L57.4,442.9L58.9,442.9L60.3,442.8L61.7,442.8L63.1,442.7L64.5,442.6L66.0,442.6L67.4,442.5L68.8,442.4L70.2,442.3L71.6,442.2L73.1,442.1L74.5,442.0L75.9,441.9L77.3,441.8L78.7,441.6L80.2,441.5L81.6,441.4L83.0,441.2L84.4,441.1L85.8,441.0L87.3,440.8L88.7,440.7L90.1,440.6L91.5,440.4L92.9,440.3L94.3,440.1L95.8,439.9L97.2,439.7L98.6,439.5L100.0,439.3L101.4,439.1L102.9,438.8L104.3,438.6L105.7,438.3L107.1,438.1L108.5,437.8L110.0,437.6L111.4,437.3L112.8,437.0L114.2,436.8L115.6,436.5L117.1,436.2L118.5,436.0L119.9,435.7L121.3,435.4L122.7,435.1L124.2,434.8L125.6,434.6L127.0,434.3L128.4,433.9L129.8,433.6L131.3,433.3L132.7,433.0L134.1,432.7L135.5,432.4L136.9,432.0L138.4,431.7L139.8,431.4L141.2,431.0L142.6,430.7L144.0,430.4L145.5,430.0L146.9,429.7L148.3,429.4L149.7,429.0L151.1,428.7L152.6,428.4L154.0,428.0L155.4,427.7L156.8,427.4L158.2,427.0L159.7,426.7L161.1,426.3L162.5,426.0L163.9,425.6L165.3,425.2L166.7,424.8L168.2,424.4L169.6,423.9L171.0,423.5L172.4,423.0L173.8,422.5L175.3,421.9L176.7,421.4L178.1,420.8L179.5,420.3L180.9,419.7L182.4,419.1L183.8,418.5L185.2,417.8L186.6,417.2L188.0,416.6L189.5,415.9L190.9,415.3L192.3,414.7L193.7,414.0L195.1,413.4L196.6,412.7L198.0,412.1L199.4,411.5L200.8,410.9L202.2,410.2L203.7,409.6L205.1,409.0L206.5,408.4L207.9,407.7L209.3,407.1L210.8,406.4L212.2,405.8L213.6,405.1L215.0,404.5L216.4,403.8L217.9,403.1L219.3,402.5L220.7,401.8L222.1,401.1L223.5,400.4L225.0,399.6L226.4,398.9L227.8,398.2L229.2,397.4L230.6,396.7L232.0,396.0L233.5,395.2L234.9,394.5L236.3,393.8L237.7,393.1L239.1,392.4L240.6,391.7L242.0,391.0L243.4,390.3L244.8,389.6L246.2,388.8L247.7,388.1L249.1,387.3L250.5,386.6L251.9,385.9L253.3,385.2L254.8,384.6L256.2,384.0L257.6,383.4L259.0,383.0L260.4,382.6L261.9,382.2L263.3,381.8L264.7,381.5L266.1,381.1L267.5,380.8L269.0,380.5L270.4,380.2L271.8,380.0L273.2,379.8L274.6,379.6L276.1,379.5L277.5,379.5L278.9,379.6L280.3,379.8L281.7,380.2L283.2,380.7L284.6,381.3L286.0,382.0L287.4,382.7L288.8,383.5L290.3,384.2L291.7,384.9L293.1,385.6L294.5,386.3L295.9,387.1L297.4,388.0L298.8,388.8L300.2,389.7L301.6,390.7L303.0,391.7L304.4,392.7L305.9,393.8L307.3,394.9L308.7,396.0L310.1,397.3L311.5,398.6L313.0,400.0L314.4,401.4L315.8,402.9L317.2,404.4L318.6,405.9L320.1,407.5L321.5,409.0L322.9,410.5L324.3,412.0L325.7,413.6L327.2,415.1L328.6,416.7L330.0,418.3L331.4,419.9L332.8,421.5L334.3,423.2L335.7,424.8L337.1,426.5" stroke="#f25a4e"/><path d="M54.6,443.0L56.0,443.0L57.4,443.0L58.9,443.0L60.3,443.0L61.7,443.0L63.1,443.0L64.5,443.0L66.0,443.0L67.4,443.0L68.8,443.0L70.2,443.0L71.6,443.0L73.1,443.0L74.5,443.0L75.9,443.0L77.3,443.0L78.7,442.9L80.2,442.9L81.6,442.9L83.0,442.9L84.4,442.9L85.8,442.9L87.3,442.9L88.7,442.9L90.1,442.9L91.5,442.9L92.9,442.9L94.3,442.9L95.8,442.8L97.2,442.8L98.6,442.8L100.0,442.8L101.4,442.8L102.9,442.8L104.3,442.7L105.7,442.7L107.1,442.6L108.5,442.6L110.0,442.5L111.4,442.5L112.8,442.4L114.2,442.4L115.6,442.3L117.1,442.2L118.5,442.2L119.9,442.1L121.3,442.0L122.7,441.9L124.2,441.9L125.6,441.8L127.0,441.7L128.4,441.6L129.8,441.5L131.3,441.4L132.7,441.2L134.1,441.1L135.5,440.9L136.9,440.8L138.4,440.6L139.8,440.4L141.2,440.2L142.6,440.0L144.0,439.8L145.5,439.5L146.9,439.3L148.3,439.0L149.7,438.7L151.1,438.4L152.6,438.0L154.0,437.6L155.4,437.1L156.8,436.6L158.2,436.0L159.7,435.3L161.1,434.4L162.5,433.4L163.9,432.2L165.3,430.8L166.7,429.2L168.2,427.5L169.6,425.7L171.0,423.7L172.4,421.4L173.8,418.2L175.3,414.3L176.7,410.1L178.1,406.0L179.5,402.1L180.9,398.8L182.4,395.8L183.8,392.8L185.2,390.0L186.6,387.6L188.0,385.8L189.5,384.5L190.9,383.3L192.3,382.3L193.7,381.7L195.1,381.5L196.6,381.8L198.0,382.4L199.4,383.3L200.8,384.2L202.2,385.3L203.7,386.9L205.1,389.0L206.5,391.2L207.9,393.6L209.3,395.8L210.8,397.7L212.2,399.2L213.6,400.5L215.0,401.8L216.4,403.0L217.9,404.1L219.3,405.2L220.7,406.2L222.1,407.2L223.5,408.1L225.0,409.0L226.4,409.8L227.8,410.7L229.2,411.5L230.6,412.2L232.0,413.0L233.5,413.7L234.9,414.3L236.3,414.9L237.7,415.5L239.1,416.0L240.6,416.5L242.0,417.0L243.4,417.5L244.8,417.9L246.2,418.4L247.7,418.8L249.1,419.2L250.5,419.5L251.9,419.8L253.3,420.1L254.8,420.3L256.2,420.5L257.6,420.7L259.0,420.8L260.4,421.0L261.9,421.1L263.3,421.2L264.7,421.4L266.1,421.5L267.5,421.6L269.0,421.7L270.4,421.8L271.8,421.9L273.2,422.0L274.6,422.0L276.1,422.1L277.5,422.2L278.9,422.2L280.3,422.3L281.7,422.3L283.2,422.3L284.6,422.4L286.0,422.4L287.4,422.4L288.8,422.5L290.3,422.5L291.7,422.5L293.1,422.5L294.5,422.6L295.9,422.6L297.4,422.6L298.8,422.6L300.2,422.6L301.6,422.7L303.0,422.7L304.4,422.7L305.9,422.7L307.3,422.7L308.7,422.7L310.1,422.7L311.5,422.7L313.0,422.7L314.4,422.7L315.8,422.7L317.2,422.7L318.6,422.7L320.1,422.7L321.5,422.7L322.9,422.7L324.3,422.7L325.7,422.7L327.2,422.7L328.6,422.7L330.0,422.7L331.4,422.7L332.8,422.7L334.3,422.7L335.7,422.7L337.1,422.7" stroke="#1e9cf0"/><path d="M54.6,443.0L56.0,442.9L57.4,442.8L58.9,442.8L60.3,442.7L61.7,442.6L63.1,442.5L64.5,442.4L66.0,442.3L67.4,442.2L68.8,442.0L70.2,441.9L71.6,441.8L73.1,441.7L74.5,441.5L75.9,441.4L77.3,441.3L78.7,441.1L80.2,441.0L81.6,440.9L83.0,440.7L84.4,440.6L85.8,440.4L87.3,440.3L88.7,440.1L90.1,440.0L91.5,439.8L92.9,439.6L94.3,439.5L95.8,439.3L97.2,439.1L98.6,439.0L100.0,438.8L101.4,438.6L102.9,438.4L104.3,438.2L105.7,438.0L107.1,437.8L108.5,437.6L110.0,437.4L111.4,437.1L112.8,436.9L114.2,436.7L115.6,436.4L117.1,436.2L118.5,435.9L119.9,435.6L121.3,435.4L122.7,435.1L124.2,434.8L125.6,434.5L127.0,434.2L128.4,433.8L129.8,433.5L131.3,433.1L132.7,432.7L134.1,432.3L135.5,431.8L136.9,431.4L138.4,430.9L139.8,430.4L141.2,429.9L142.6,429.3L144.0,428.8L145.5,428.2L146.9,427.6L148.3,427.0L149.7,426.3L151.1,425.6L152.6,424.9L154.0,424.1L155.4,423.2L156.8,422.3L158.2,421.3L159.7,420.2L161.1,419.0L162.5,417.7L163.9,416.1L165.3,414.4L166.7,412.4L168.2,410.3L169.6,408.1L171.0,405.7L172.4,403.3L173.8,400.5L175.3,397.4L176.7,394.1L178.1,390.7L179.5,387.1L180.9,383.4L182.4,379.0L183.8,374.1L185.2,369.3L186.6,364.9L188.0,361.6L189.5,359.2L190.9,356.9L192.3,354.9L193.7,353.3L195.1,352.4L196.6,352.2L198.0,352.3L199.4,352.6L200.8,353.1L202.2,353.5L203.7,354.0L205.1,354.7L206.5,355.6L207.9,356.5L209.3,357.4L210.8,358.3L212.2,359.0L213.6,359.7L215.0,360.4L216.4,361.0L217.9,361.5L219.3,361.8L220.7,361.9L222.1,362.0L223.5,362.2L225.0,362.3L226.4,362.3L227.8,362.4L229.2,362.5L230.6,362.5L232.0,362.6L233.5,362.6L234.9,362.6L236.3,362.6L237.7,362.5L239.1,362.4L240.6,362.3L242.0,362.1L243.4,361.9L244.8,361.6L246.2,361.3L247.7,361.0L249.1,360.7L250.5,360.4L251.9,360.0L253.3,359.7L254.8,359.4L256.2,359.0L257.6,358.7L259.0,358.4L260.4,358.1L261.9,357.8L263.3,357.5L264.7,357.2L266.1,356.9L267.5,356.6L269.0,356.2L270.4,355.9L271.8,355.5L273.2,355.1L274.6,354.7L276.1,354.2L277.5,353.6L278.9,353.0L280.3,352.3L281.7,351.6L283.2,350.8L284.6,350.0L286.0,349.1L287.4,348.2L288.8,347.3L290.3,346.3L291.7,345.3L293.1,344.2L294.5,342.9L295.9,341.4L297.4,339.6L298.8,337.0L300.2,333.5L301.6,329.2L303.0,324.6L304.4,319.0L305.9,312.1L307.3,304.8L308.7,298.1L310.1,291.9L311.5,285.2L313.0,280.0L314.4,278.2L315.8,279.9L317.2,283.6L318.6,287.9L320.1,292.9L321.5,299.4L322.9,306.6L324.3,313.7L325.7,320.2L327.2,326.6L328.6,332.9L330.0,338.8L331.4,344.2L332.8,349.3L334.3,354.1L335.7,358.5L337.1,362.6" stroke="#000000"/></g><text x="226.8" y="366.2" font-family="'Liberation Sans', 'DejaVu Sans', sans-serif" font-size="10" font-weight="bold" text-anchor="middle" stroke="#ffffff" stroke-width="3.2" paint-order="stroke" fill="#111">Tot</text><text x="243.2" y="392.4" font-family="'Liberation Sans', 'DejaVu Sans', sans-serif" font-size="10" font-weight="bold" text-anchor="middle" stroke="#ffffff" stroke-width="3.2" paint-order="stroke" fill="#111">ED</text><text x="245.6" y="420.3" font-family="'Liberation Sans', 'DejaVu Sans', sans-serif" font-size="10" font-weight="bold" text-anchor="middle" stroke="#ffffff" stroke-width="3.2" paint-order="stroke" fill="#111">MD</text><text x="212.5" y="445.1" font-family="'Liberation Sans', 'DejaVu Sans', sans-serif" font-size="10" font-weight="bold" text-anchor="middle" stroke="#ffffff" stroke-width="3.2" paint-order="stroke" fill="#111">MQ</text><rect x="40.7" y="270" width="310" height="180.5" fill="none" stroke="#000" stroke-width="2"/><path d="M185.8,323.8 L242.9,323.8 L242.9,314.5 L261.2,333.1 L242.9,351.7 L242.9,342.6 L185.8,342.6 Z" fill="url(#arrowg)"/><text x="218" y="335.8" font-family="'DejaVu Sans', 'Liberation Sans', sans-serif" font-size="11" fill="#e0404c" text-anchor="middle">enhanced</text><line x1="41.5" y1="443.0" x2="46.5" y2="443.0" stroke="#000" stroke-width="1.5"/><text x="37" y="447.9" font-family="'DejaVu Sans', 'Liberation Sans', sans-serif" font-size="13" text-anchor="end">0</text><line x1="41.5" y1="402.8" x2="46.5" y2="402.8" stroke="#000" stroke-width="1.5"/><text x="37" y="407.7" font-family="'DejaVu Sans', 'Liberation Sans', sans-serif" font-size="13" text-anchor="end">1</text><line x1="41.5" y1="362.6" x2="46.5" y2="362.6" stroke="#000" stroke-width="1.5"/><text x="37" y="367.5" font-family="'DejaVu Sans', 'Liberation Sans', sans-serif" font-size="13" text-anchor="end">2</text><line x1="41.5" y1="322.4" x2="46.5" y2="322.4" stroke="#000" stroke-width="1.5"/><text x="37" y="327.3" font-family="'DejaVu Sans', 'Liberation Sans', sans-serif" font-size="13" text-anchor="end">3</text><line x1="41.5" y1="282.2" x2="46.5" y2="282.2" stroke="#000" stroke-width="1.5"/><text x="37" y="287.1" font-family="'DejaVu Sans', 'Liberation Sans', sans-serif" font-size="13" text-anchor="end">4</text><line x1="54.6" y1="449.6" x2="54.6" y2="445" stroke="#000" stroke-width="1.5"/><text x="54.6" y="465.1" font-family="'DejaVu Sans', 'Liberation Sans', sans-serif" font-size="13" text-anchor="middle">100</text><line x1="125.2" y1="449.6" x2="125.2" y2="445" stroke="#000" stroke-width="1.5"/><text x="125.2" y="465.1" font-family="'DejaVu Sans', 'Liberation Sans', sans-serif" font-size="13" text-anchor="middle">150</text><line x1="195.8" y1="449.6" x2="195.8" y2="445" stroke="#000" stroke-width="1.5"/><text x="195.8" y="465.1" font-family="'DejaVu Sans', 'Liberation Sans', sans-serif" font-size="13" text-anchor="middle">200</text><line x1="266.5" y1="449.6" x2="266.5" y2="445" stroke="#000" stroke-width="1.5"/><text x="266.5" y="465.1" font-family="'DejaVu Sans', 'Liberation Sans', sans-serif" font-size="13" text-anchor="middle">250</text><line x1="337.1" y1="449.6" x2="337.1" y2="445" stroke="#000" stroke-width="1.5"/><text x="337.1" y="465.1" font-family="'DejaVu Sans', 'Liberation Sans', sans-serif" font-size="13" text-anchor="middle">300</text><line x1="89.9" y1="449.6" x2="89.9" y2="447.2" stroke="#000" stroke-width="1.2"/><line x1="160.5" y1="449.6" x2="160.5" y2="447.2" stroke="#000" stroke-width="1.2"/><line x1="231.2" y1="449.6" x2="231.2" y2="447.2" stroke="#000" stroke-width="1.2"/><line x1="301.8" y1="449.6" x2="301.8" y2="447.2" stroke="#000" stroke-width="1.2"/><text x="39.0" y="265.4" font-family="'DejaVu Sans', 'Liberation Sans', sans-serif" font-size="13.5">1e-13</text><text x="110.6" y="264.3" font-family="'DejaVu Sans', 'Liberation Sans', sans-serif" font-size="13">Optical Trapping Regime</text><text x="195.6" y="482.4" font-family="'DejaVu Sans', 'Liberation Sans', sans-serif" font-size="13.3" text-anchor="middle">Si NP Dia. (nm)</text><text transform="translate(20.6,360.2) rotate(-90)" font-family="'DejaVu Sans', 'Liberation Sans', sans-serif" font-size="13.5" text-anchor="middle">Scattering cross-sections (m<tspan font-size="9" dy="-5">−2</tspan><tspan dy="5">)</tspan></text><text x="113" y="286.3" font-family="'DejaVu Sans', 'Liberation Sans', sans-serif" font-size="13" font-weight="bold" font-style="italic" fill="#ee2a3a" text-anchor="middle">E-field</text><text x="112.4" y="301.5" font-family="'DejaVu Sans', 'Liberation Sans', sans-serif" font-size="13" text-anchor="middle">trapping</text><text x="222.1" y="286.3" font-family="'DejaVu Sans', 'Liberation Sans', sans-serif" font-size="13" font-weight="bold" font-style="italic" fill="#1c3f88" text-anchor="middle">H-field</text><text x="221.6" y="301.5" font-family="'DejaVu Sans', 'Liberation Sans', sans-serif" font-size="13" text-anchor="middle">trapping</text><line x1="53.8" y1="373.0" x2="77.9" y2="373.0" stroke="#000000" stroke-width="1.9"/><text x="86" y="377.2" font-family="'DejaVu Sans', 'Liberation Sans', sans-serif" font-size="11">Tot. Scat.</text><line x1="53.8" y1="389.4" x2="77.9" y2="389.4" stroke="#1e9cf0" stroke-width="1.9"/><text x="86" y="393.6" font-family="'DejaVu Sans', 'Liberation Sans', sans-serif" font-size="11">MD</text><line x1="53.8" y1="405.7" x2="77.9" y2="405.7" stroke="#f25a4e" stroke-width="1.9"/><text x="86" y="409.9" font-family="'DejaVu Sans', 'Liberation Sans', sans-serif" font-size="11">ED</text><line x1="53.8" y1="422.1" x2="77.9" y2="422.1" stroke="#ee82ee" stroke-width="1.9"/><text x="86" y="426.2" font-family="'DejaVu Sans', 'Liberation Sans', sans-serif" font-size="11">MQ</text><text x="460.4" y="264.7" font-family="'DejaVu Sans', 'Liberation Sans', sans-serif" font-size="13" font-weight="bold" font-style="italic" fill="#e8303c" text-anchor="middle">E-field</text><text x="460.5" y="279.6" font-family="'DejaVu Sans', 'Liberation Sans', sans-serif" font-size="13" text-anchor="middle" fill="#1a1a1a">trapping</text><text x="628.1" y="264.7" font-family="'DejaVu Sans', 'Liberation Sans', sans-serif" font-size="13" font-weight="bold" font-style="italic" fill="#1c3f88" text-anchor="middle">H-field</text><text x="627.6" y="279.6" font-family="'DejaVu Sans', 'Liberation Sans', sans-serif" font-size="13" text-anchor="middle" fill="#1a1a1a">trapping</text><text transform="translate(386.8,325.5) rotate(-90)" font-family="'DejaVu Sans', 'Liberation Sans', sans-serif" font-size="13" text-anchor="middle">Potential</text><text transform="translate(401.5,326.3) rotate(-90)" font-family="'DejaVu Sans', 'Liberation Sans', sans-serif" font-size="13" text-anchor="middle">energy</text><text transform="translate(386.8,401.8) rotate(-90)" font-family="'DejaVu Sans', 'Liberation Sans', sans-serif" font-size="13" text-anchor="middle">Azimuthal</text><text transform="translate(402.8,401.8) rotate(-90)" font-family="'DejaVu Sans', 'Liberation Sans', sans-serif" font-size="13" text-anchor="middle">beam</text><line x1="550.2" y1="255" x2="550.2" y2="397.2" stroke="#000" stroke-width="2.5" stroke-dasharray="8,6.9"/><path d="M415.8,297.9L416.5,297.2L422.4,296.7L425.7,296.2L429.8,296.2L431.5,297.0L434.8,301.6L436.4,305.7L438.1,312.3L439.8,318.9L441.6,325.2L443.5,330.5L445.3,334.5L447.6,341.6L449.0,346.5L449.8,348.0L451.0,346.2L452.4,343.1L455.5,336.9L458.6,330.6L461.8,325.9L464.9,323.1L467.3,322.9L470.6,327.4L473.9,334.0L477.2,341.4L479.5,346.0L481.3,348.6L482.5,348.8L484.6,345.5L487.1,339.8L489.5,328.8L491.6,320.6L493.2,314.0L495.3,306.5L497.4,300.7L499.8,297.0L503.0,296.4L507.3,296.2L512.0,296.6L515.5,297.4L515.5,298.3L510.6,299.1L507.8,300.5L507.3,302.4L504.8,309.0L502.3,316.4L499.8,324.7L498.5,330.0L496.3,337.0L493.5,343.5L490.5,349.0L487.5,351.8L486.0,352.2L479.5,352.0L478.8,351.4L476.4,346.4L473.0,339.0L469.8,331.5L467.3,326.6L466.1,326.2L464.9,326.6L462.6,330.6L460.2,336.1L457.9,341.6L455.5,347.1L453.1,351.8L452.4,352.1L446.1,352.2L443.7,351.4L441.8,347.9L439.0,341.6L435.9,333.7L432.7,325.9L429.8,317.3L427.4,310.7L424.9,304.9L422.4,300.7L419.9,299.1L415.8,298.5Z" fill="url(#wellg)" filter="url(#soft)"/><path d="M581.7,297.3L582.5,295.6L590.0,294.9L604.6,295.1L607.9,298.0L610.9,302.2L613.8,307.6L616.4,313.2L618.9,319.5L621.1,325.8L623.6,332.3L625.9,338.4L628.0,343.6L629.8,347.6L631.3,349.8L632.8,348.0L635.3,341.6L637.8,336.0L640.1,330.6L642.5,324.2L644.8,318.0L647.1,312.2L649.5,306.9L652.6,302.4L655.8,299.0L660.6,295.1L672.0,294.9L681.0,295.6L681.8,296.7L681.8,297.5L672.0,297.8L666.9,297.8L660.6,299.8L657.2,302.8L654.3,306.9L651.4,312.2L648.7,318.0L646.0,324.2L643.2,330.6L640.5,337.0L637.7,343.2L635.4,347.8L633.5,350.8L631.5,351.9L629.8,351.3L628.2,349.0L626.7,346.3L624.3,341.7L621.9,336.9L619.1,330.6L616.4,324.3L613.7,318.6L610.9,313.2L607.5,307.5L603.8,302.2L600.0,299.6L595.9,298.2L588.0,297.6L581.7,297.6Z" fill="url(#wellg)" filter="url(#soft)"/><rect x="428.4" y="360.2" width="73.4" height="66.9" fill="#ffffff" stroke="#f0f0f0" stroke-width="0.8"/><circle cx="465.2" cy="394.0" r="34" fill="url(#dringL)"/><rect x="597" y="359.3" width="72.6" height="66.9" fill="none" stroke="#f0f0f0" stroke-width="0.8"/><circle cx="633.0" cy="392.9" r="34" fill="url(#dringR)"/><line x1="432" y1="394" x2="500" y2="394" stroke="#000" stroke-width="1.8" stroke-dasharray="3.4,2"/><line x1="599.5" y1="394.5" x2="667" y2="394.5" stroke="#000" stroke-width="1.8" stroke-dasharray="3.4,2"/><circle cx="485.5" cy="392.4" r="6.2" fill="url(#sphere)"/><circle cx="633.3" cy="391.8" r="9.4" fill="url(#sphere)"/><text x="554.3" y="430" font-family="'DejaVu Sans', 'Liberation Sans', sans-serif" font-size="13" text-anchor="middle">Potential energy</text><rect x="495.6" y="436.6" width="118.2" height="5.6" fill="url(#cw)" stroke="#555" stroke-width="0.6"/><text x="492" y="444.4" font-family="'DejaVu Sans', 'Liberation Sans', sans-serif" font-size="13" text-anchor="end">Low</text><text x="617.8" y="444.4" font-family="'DejaVu Sans', 'Liberation Sans', sans-serif" font-size="13">High</text></svg>
</body></html>
